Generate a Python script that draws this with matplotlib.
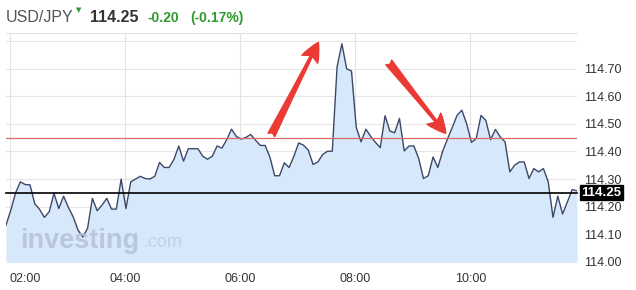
import matplotlib
matplotlib.use('Agg')
import matplotlib.pyplot as plt
import matplotlib.transforms as mtransforms
import numpy as np

plt.rcParams['font.family'] = ['Liberation Sans', 'DejaVu Sans']

# USD/JPY 5-minute closes, starting 01:56
start_hour = 1 + 56 / 60
step_min = 5
prices = [
    114.133, 114.187, 114.250, 114.290, 114.280, 114.279, 114.210, 114.190, 114.161, 114.181,
    114.248, 114.193, 114.238, 114.197, 114.163, 114.115, 114.090, 114.121, 114.230, 114.185,
    114.205, 114.230, 114.191, 114.191, 114.300, 114.193, 114.290, 114.300, 114.310, 114.302,
    114.300, 114.310, 114.360, 114.342, 114.342, 114.371, 114.420, 114.365, 114.410, 114.410,
    114.410, 114.383, 114.372, 114.383, 114.420, 114.412, 114.443, 114.481, 114.455, 114.445,
    114.451, 114.462, 114.441, 114.422, 114.422, 114.380, 114.312, 114.312, 114.359, 114.342,
    114.383, 114.431, 114.423, 114.405, 114.353, 114.362, 114.389, 114.401, 114.401, 114.707,
    114.791, 114.700, 114.692, 114.487, 114.435, 114.481, 114.455, 114.433, 114.414, 114.530,
    114.474, 114.468, 114.520, 114.402, 114.420, 114.420, 114.375, 114.302, 114.312, 114.380,
    114.342, 114.401, 114.445, 114.487, 114.531, 114.550, 114.501, 114.433, 114.447, 114.531,
    114.513, 114.443, 114.480, 114.453, 114.435, 114.326, 114.350, 114.362, 114.362, 114.302,
    114.338, 114.326, 114.338, 114.290, 114.161, 114.238, 114.173, 114.217, 114.262, 114.257,
]
last_price = 114.25
ref_level = 114.45
change = '-0.20'
change_pct = '(-0.17%)'

x_ticks = [2, 4, 6, 8, 10]
x_labels = ['02:00', '04:00', '06:00', '08:00', '10:00']
y_ticks = [114.0, 114.1, 114.2, 114.3, 114.4, 114.5, 114.6, 114.7]

hours = start_hour + np.arange(len(prices)) * step_min / 60

W, H = 636, 290
fig = plt.figure(figsize=(W / 100, H / 100), dpi=100)
ax = fig.add_axes([6 / W, 28 / H, 571 / W, 229 / H])

ax.fill_between(hours, prices, 113.9, color='#d8e8fb', lw=0)
ax.plot(hours, prices, color='#3b4869', lw=1.0)

ax.axhline(ref_level, color='#d66a6a', lw=0.9)
ax.axhline(last_price, color='black', lw=1.2, clip_on=False)

ax.set_xlim(hours[0], hours[-1])
ax.set_ylim(113.999, 114.83)

for yv in list(y_ticks) + [114.8]:
    ax.axhline(yv, color='#e6e6e6', lw=0.8, zorder=0)
for xv in x_ticks:
    ax.axvline(xv, color='#e3e3e3', lw=0.8, zorder=0)

ax.set_xticks(x_ticks)
ax.set_xticklabels(x_labels, fontsize=9, color='#333333')
first = ax.get_xticklabels()[0]
first.set_horizontalalignment('left')
first.set_transform(first.get_transform() + mtransforms.ScaledTranslation(-3 / 100, 0, fig.dpi_scale_trans))
ax.set_yticks(y_ticks)
ax.set_yticklabels(['%.2f' % v for v in y_ticks], fontsize=9, color='#333333')
ax.yaxis.tick_right()
ax.tick_params(length=0, pad=5)
ax.tick_params(axis='x', pad=8)
for s in ['left', 'right', 'bottom']:
    ax.spines[s].set_visible(False)
ax.spines['top'].set_color('#e3e3e3')
ax.spines['top'].set_linewidth(0.8)

# last price box on the right
ax.annotate('%.2f' % last_price, xy=(1.0, last_price), xycoords=('axes fraction', 'data'),
            xytext=(3, 0), textcoords='offset points', va='center', ha='left',
            fontsize=9.5, fontweight='bold', color='white',
            bbox=dict(boxstyle='square,pad=0.12', fc='black', ec='black'))

# watermark
ax.text(0.025, 0.09, 'investing', transform=ax.transAxes, fontsize=19.5, fontweight='bold',
        color='#b3c2d6', alpha=0.85, va='center')
ax.text(0.24, 0.085, '.com', transform=ax.transAxes, fontsize=13,
        color='#bfcde0', alpha=0.85, va='center')

# red arrows
arrow_kw = dict(arrowstyle='fancy,head_length=0.8,head_width=0.75,tail_width=0.32',
                fc='#ea3a33', ec='#ea3a33', mutation_scale=17)
ax.annotate('', xy=(7.38, 114.805), xytext=(6.52, 114.451), arrowprops=arrow_kw)
ax.annotate('', xy=(9.60, 114.458), xytext=(8.55, 114.731), arrowprops=arrow_kw)

# header
fig.text(6 / W, 1 - 18 / H, 'USD/JPY', fontsize=11.5, color='#555555', va='center')
fig.text(79 / W, 1 - 10 / H, '▼', fontsize=5, color='#2a9d2a', va='center', ha='center',
         family='DejaVu Sans')
fig.text(90 / W, 1 - 18 / H, '%.2f' % last_price, fontsize=11.5, fontweight='bold',
         color='#333333', va='center')
fig.text(148 / W, 1 - 18 / H, change, fontsize=10, fontweight='bold', color='#2e9b2e', va='center')
fig.text(190 / W, 1 - 18 / H, change_pct, fontsize=10, fontweight='bold', color='#2e9b2e', va='center')

fig.savefig('out.png', dpi=100)
